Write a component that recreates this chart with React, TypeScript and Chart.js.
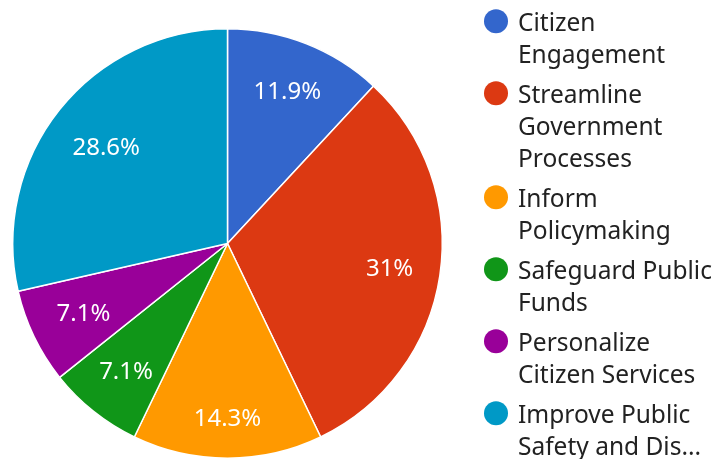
import React, { useEffect, useRef } from "react";
import { Chart, registerables } from "chart.js";

Chart.register(...registerables);

const categories = [
  "Citizen Engagement",
  "Streamline Government Processes",
  "Inform Policymaking",
  "Safeguard Public Funds",
  "Personalize Citizen Services",
  "Improve Public Safety and Disaster Response",
];
const legendLines = [
  ["Citizen", "Engagement"],
  ["Streamline", "Government", "Processes"],
  ["Inform", "Policymaking"],
  ["Safeguard Public", "Funds"],
  ["Personalize", "Citizen Services"],
  ["Improve Public", "Safety and Dis..."],
];
const values = [5, 13, 6, 3, 3, 12];
const colors = ["#3366cc", "#dc3912", "#ff9900", "#109618", "#990099", "#0099c6"];

const FONT = "'Noto Sans', sans-serif";
const LABEL_SIZE = 24;
const LEGEND_SIZE = 24.5;

function pctLabel(v: number, total: number) {
  const p = Math.round((v / total) * 1000) / 10;
  return (Number.isInteger(p) ? p.toFixed(0) : p.toFixed(1)) + "%";
}

const sliceLabels = {
  id: "sliceLabels",
  afterDatasetsDraw(chart: any) {
    const ctx = chart.ctx;
    const meta = chart.getDatasetMeta(0);
    const data = chart.data.datasets[0].data as number[];
    const total = data.reduce((a, b) => a + b, 0);
    ctx.save();
    ctx.fillStyle = "#ffffff";
    ctx.font = `${LABEL_SIZE}px ${FONT}`;
    ctx.textAlign = "center";
    ctx.textBaseline = "middle";
    meta.data.forEach((arc: any, i: number) => {
      const { x, y, startAngle, endAngle, outerRadius } = arc.getProps(
        ["x", "y", "startAngle", "endAngle", "outerRadius"],
        true
      );
      const text = pctLabel(data[i], total);
      const mid = (startAngle + endAngle) / 2;
      const ux = Math.cos(mid);
      const uy = Math.sin(mid);
      const w = ctx.measureText(text).width;
      const a = (ux >= 0 ? 1 : -1) * (w / 2);
      const b = (uy >= 0 ? 1 : -1) * (LABEL_SIZE / 2);
      const D = outerRadius * 0.8817;
      const p = ux * a + uy * b;
      const r = -p + Math.sqrt(p * p - (a * a + b * b - D * D));
      ctx.fillText(text, x + ux * r, y + uy * r + 1);
    });
    ctx.restore();
  },
};

const customLegend = {
  id: "customLegend",
  afterDraw(chart: any) {
    const ctx = chart.ctx;
    ctx.save();
    ctx.font = `${LEGEND_SIZE}px ${FONT}`;
    ctx.textAlign = "left";
    ctx.textBaseline = "alphabetic";
    let baseline = 30.7;
    const lineH = 32;
    const gap = 8;
    legendLines.forEach((lines, i) => {
      ctx.fillStyle = colors[i];
      ctx.beginPath();
      ctx.arc(496, baseline - 9.5, 12, 0, Math.PI * 2);
      ctx.fill();
      ctx.fillStyle = "#222222";
      lines.forEach((t, j) => {
        ctx.fillText(t, 518, baseline + j * lineH);
      });
      baseline += lines.length * lineH + gap;
    });
    ctx.restore();
  },
};

export default function App() {
  const ref = useRef<HTMLCanvasElement | null>(null);
  useEffect(() => {
    if (!ref.current) return;
    const chart = new Chart(ref.current, {
      type: "pie",
      data: {
        labels: categories,
        datasets: [
          {
            data: values,
            backgroundColor: colors,
            borderColor: "#ffffff",
            borderWidth: 1.5,
          },
        ],
      },
      options: {
        animation: false,
        responsive: true,
        maintainAspectRatio: false,
        layout: { padding: { left: 12, right: 272, top: 28, bottom: 0 } },
        plugins: {
          legend: { display: false },
          tooltip: { enabled: false },
        },
      },
      plugins: [sliceLabels, customLegend],
    });
    return () => chart.destroy();
  }, []);
  return (
    <div style={{ position: "absolute", left: 0, top: 0, width: 715, height: 459, background: "#fff" }}>
      <canvas ref={ref} />
    </div>
  );
}
